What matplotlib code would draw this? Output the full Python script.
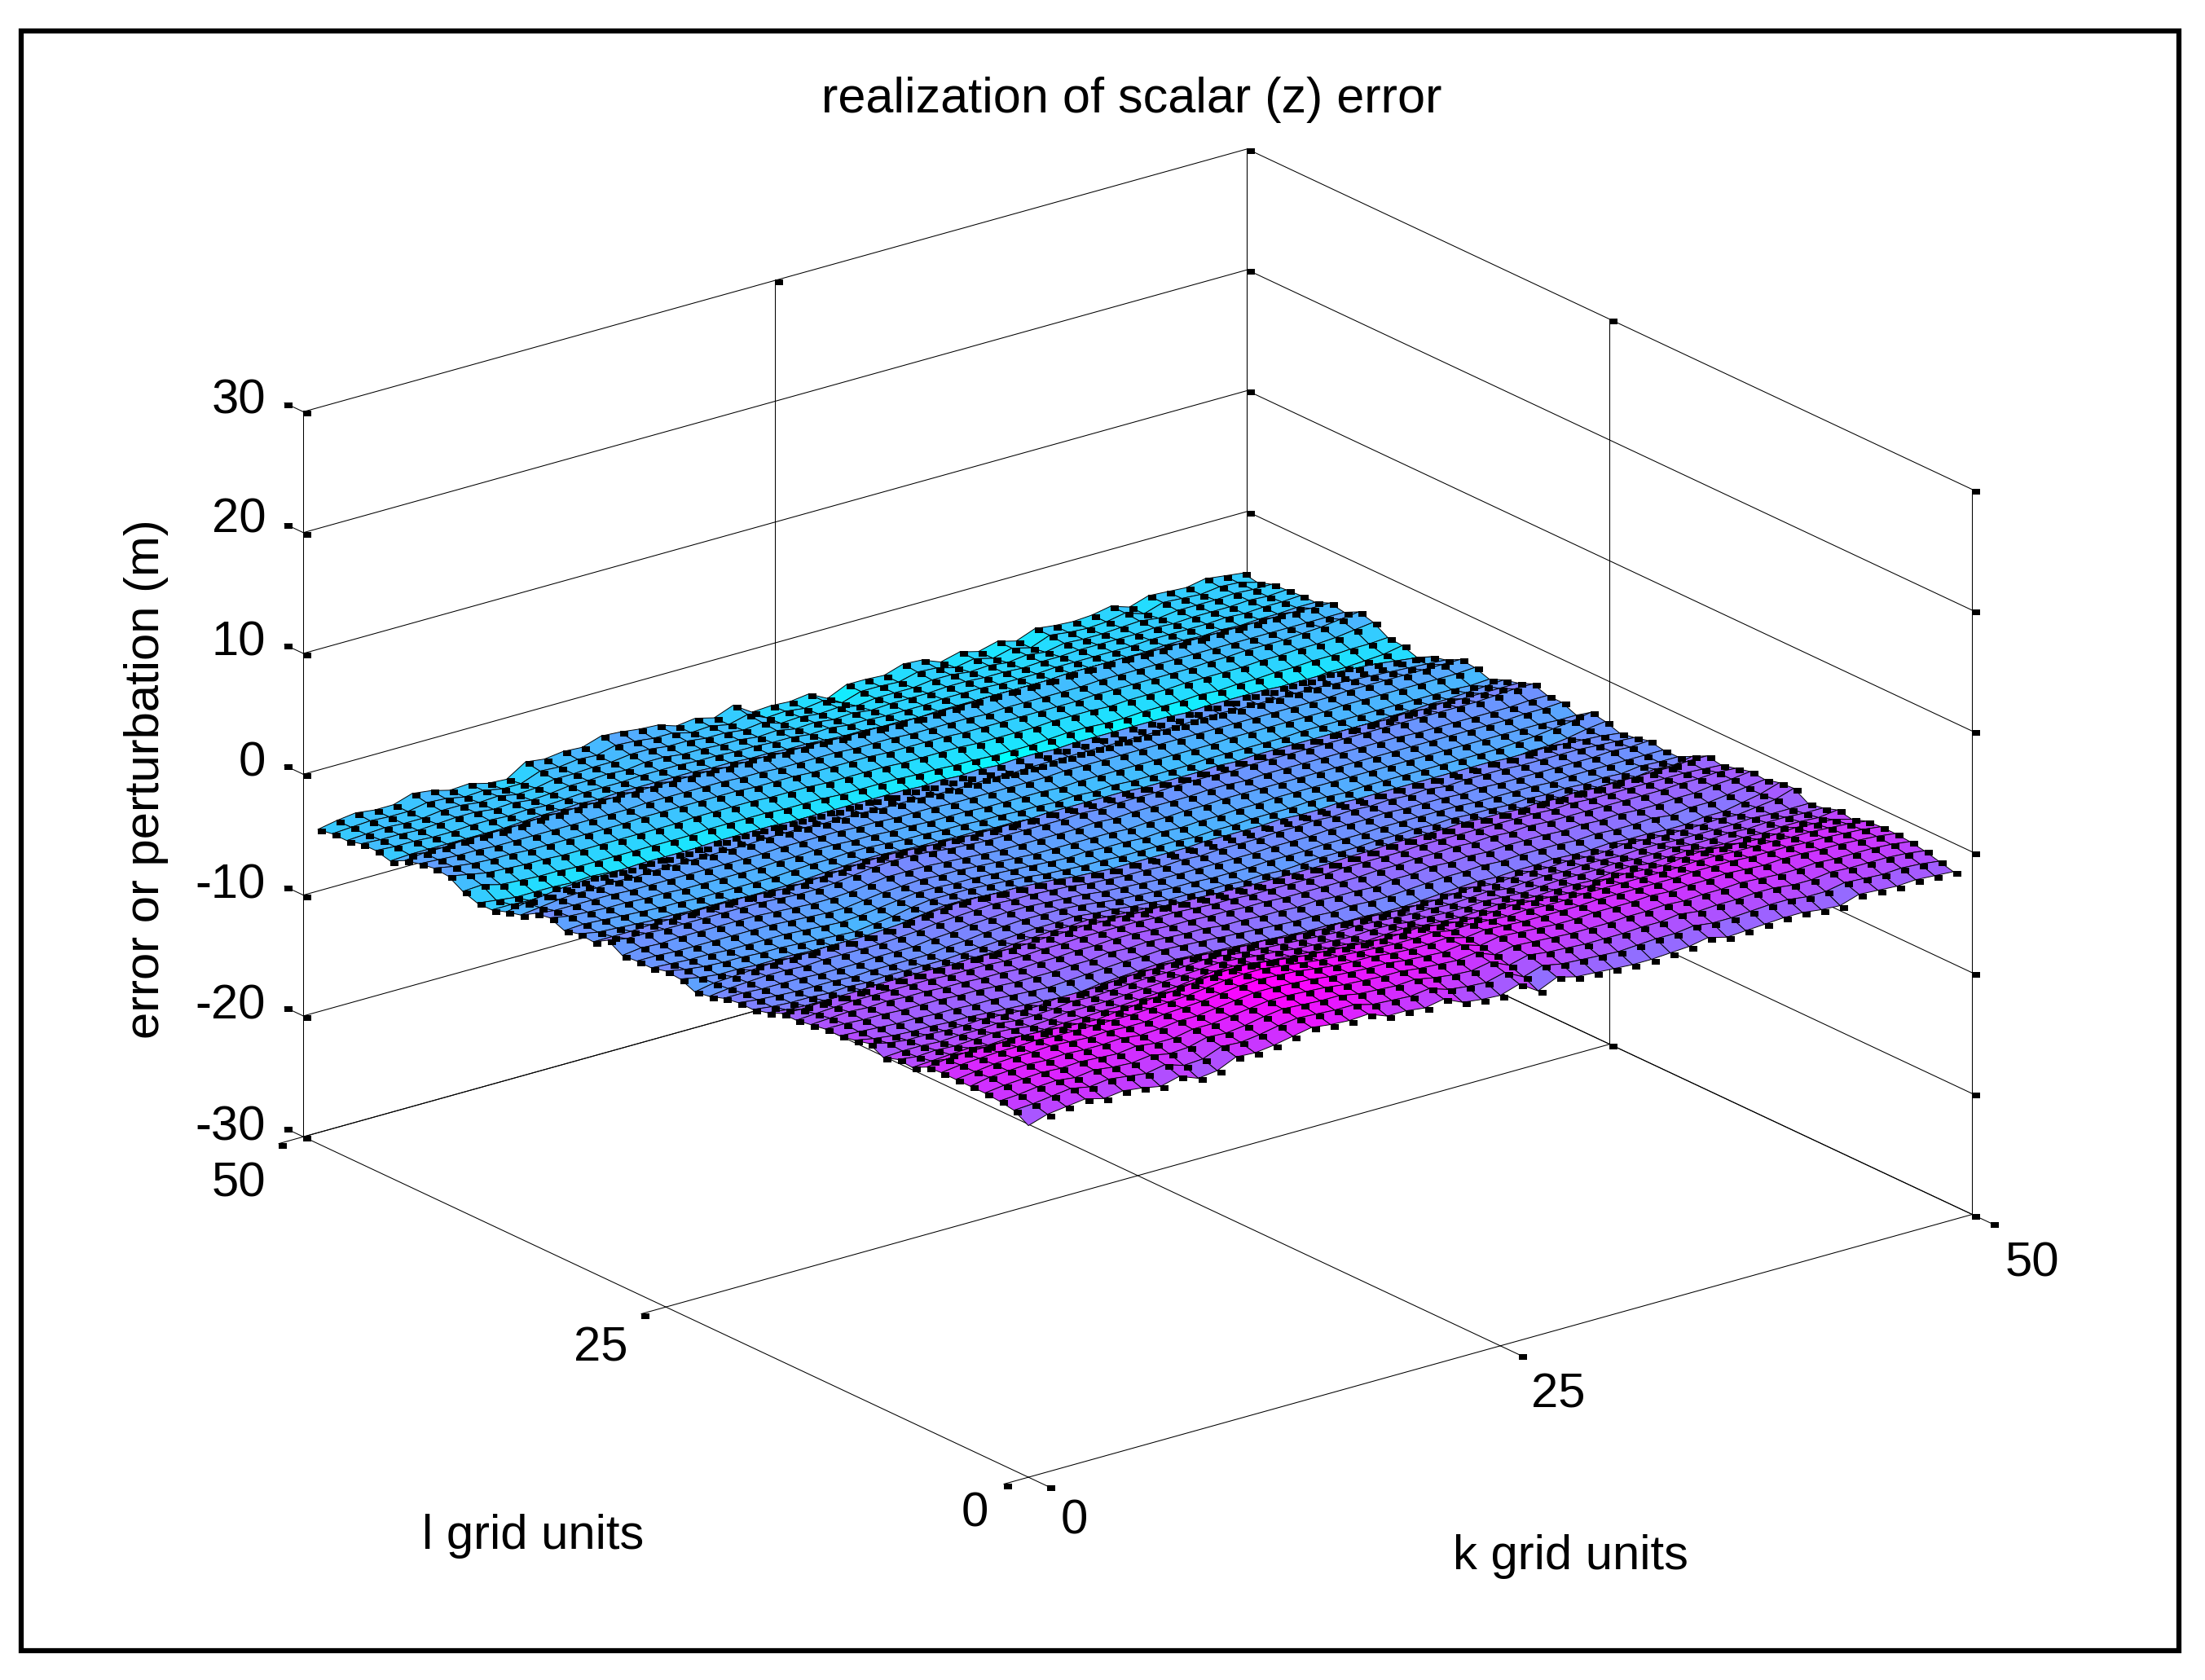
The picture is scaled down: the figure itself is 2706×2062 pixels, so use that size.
import numpy as np
import matplotlib
matplotlib.use("Agg")
import matplotlib.pyplot as plt
from matplotlib.patches import Rectangle
from matplotlib.colors import Normalize

plt.rcParams['font.family'] = ['Liberation Sans', 'DejaVu Sans']

z_ticks = [-30, -20, -10, 0, 10, 20, 30]
z_labels = ["-30", "-20", "-10", "0", "10", "20", "30"]
k_ticks = [0, 25, 50]
l_ticks = [0, 25, 50]
title = "realization of scalar (z) error"

# surface height, in tenths of a metre
# one row per l (0 to 49), one column per k (0 to 49)
z_rows = [
[-9,-4,-2,0,-4,-2,-4,-7,-3,-9, -7,0,-1,1,4,7,5,4,5,-1, -1,-3,0,-7,-9,-10,-5,-15,-8,-12, -13,-14,-15,-15,-14,-13,-10,-14,-13,-12, -11,-11,-13,-14,-9,-10,-11,-10,-11,-12],
[-2,-1,1,3,0,2,0,-2,1,-4, -3,3,2,4,7,9,8,7,7,3, 2,1,3,-2,-4,-5,-1,-9,-4,-7, -8,-9,-10,-9,-8,-8,-6,-8,-8,-7, -6,-6,-8,-8,-5,-6,-7,-6,-7,-9],
[0,1,3,4,2,4,2,1,3,0, 1,5,4,6,9,11,10,9,9,6, 5,4,5,2,0,-1,2,-5,-1,-3, -4,-5,-5,-5,-4,-4,-2,-4,-3,-3, -2,-2,-4,-4,-2,-3,-3,-3,-4,-6],
[1,3,4,5,4,5,4,3,5,3, 3,6,6,8,10,12,12,11,10,8, 7,6,6,4,3,2,4,-2,1,0, -1,-2,-2,-2,-1,-1,0,-1,0,0, 1,0,-1,-1,0,-1,-1,-1,-2,-4],
[1,4,5,6,5,6,5,5,6,4, 5,7,7,9,11,13,13,12,11,9, 8,7,7,5,4,3,5,0,3,2, 1,0,0,1,1,1,2,1,2,2, 3,2,1,2,2,1,1,0,-1,-3],
[1,3,5,6,6,7,6,5,6,5, 5,7,8,9,11,13,14,13,12,10, 8,7,7,5,4,4,5,1,3,2, 1,1,1,1,2,2,2,2,2,3, 3,3,2,2,2,1,1,0,-1,-3],
[1,3,4,5,5,6,5,5,5,5, 5,6,7,8,10,12,13,13,11,9, 7,6,5,4,3,3,4,1,2,1, 0,1,0,0,1,1,1,1,1,1, 2,2,1,1,1,0,0,-1,-2,-4],
[0,2,3,3,3,4,3,2,1,0, 2,3,5,6,8,10,11,11,9,7, 5,4,3,2,1,1,2,0,-2,-3, -2,-1,-2,-3,-4,-3,-1,-1,-2,-3, -1,0,-1,-2,-3,-3,-2,-3,-4,-8],
[-6,-5,-4,-3,-5,-4,-6,-5,-4,-4, -3,-3,-2,-1,0,2,4,4,2,0, -1,-2,-3,-4,-6,-5,-4,-6,-7,-8, -7,-6,-7,-8,-7,-7,-8,-6,-5,-7, -6,-5,-7,-8,-7,-8,-7,-7,-8,-6],
[-5,-7,-6,-7,-6,-5,-6,-8,-7,-5, -5,-5,-4,-3,-2,-1,0,1,0,-2, -3,-5,-6,-7,-8,-7,-7,-9,-9,-10, -10,-9,-10,-11,-10,-9,-9,-9,-8,-9, -9,-8,-10,-10,-9,-10,-9,-9,-10,-10],
[-9,-8,-8,-9,-8,-8,-7,-9,-9,-8, -6,-7,-6,-5,-4,-4,-3,-2,-3,-5, -6,-7,-8,-9,-10,-9,-10,-11,-12,-12, -13,-12,-11,-13,-12,-11,-12,-11,-11,-12, -11,-11,-12,-12,-12,-12,-11,-12,-12,-12],
[-3,-7,-9,-9,-10,-10,-9,-10,-11,-11, -9,-9,-9,-8,-7,-7,-6,-6,-7,-8, -9,-9,-11,-12,-13,-12,-13,-14,-15,-15, -15,-14,-13,-15,-14,-13,-14,-13,-14,-14, -12,-13,-14,-14,-14,-13,-14,-12,-10,-5],
[-6,-9,-11,-12,-12,-13,-13,-14,-15,-16, -17,-19,-18,-16,-15,-14,-13,-13,-14,-15, -16,-17,-18,-19,-20,-20,-21,-21,-22,-22, -21,-20,-19,-18,-19,-18,-18,-17,-18,-18, -17,-18,-18,-19,-19,-17,-17,-14,-11,-6],
[-8,-9,-10,-11,-11,-12,-12,-13,-13,-14, -15,-16,-15,-14,-13,-12,-12,-11,-12,-13, -14,-15,-16,-17,-18,-18,-19,-18,-19,-19, -18,-17,-16,-16,-15,-16,-15,-15,-15,-16, -15,-16,-16,-15,-17,-15,-15,-13,-11,-9],
[-8,-8,-9,-9,-10,-10,-10,-11,-11,-12, -13,-13,-13,-12,-12,-10,-11,-10,-11,-12, -12,-14,-14,-15,-15,-16,-15,-16,-16,-17, -15,-15,-13,-14,-13,-14,-13,-13,-13,-14, -13,-14,-13,-14,-14,-13,-13,-11,-10,-8],
[-10,-9,-8,-9,-8,-9,-9,-10,-10,-11, -11,-12,-11,-11,-10,-10,-9,-9,-10,-11, -11,-12,-12,-13,-13,-14,-14,-14,-14,-14, -13,-13,-12,-12,-11,-12,-11,-12,-11,-12, -12,-12,-12,-12,-12,-12,-11,-11,-10,-11],
[-12,-11,-10,-9,-9,-9,-9,-9,-10,-10, -10,-11,-11,-10,-10,-9,-9,-9,-9,-10, -10,-11,-12,-12,-13,-13,-13,-13,-13,-12, -12,-12,-12,-11,-11,-11,-11,-11,-11,-11, -12,-11,-12,-12,-12,-12,-12,-12,-13,-14],
[-12,-13,-12,-11,-11,-10,-10,-10,-10,-11, -10,-11,-11,-11,-10,-10,-9,-10,-10,-11, -11,-12,-12,-13,-13,-14,-14,-14,-14,-14, -13,-13,-12,-12,-12,-12,-11,-12,-12,-13, -12,-13,-12,-13,-13,-13,-13,-13,-12,-12],
[-17,-19,-20,-20,-21,-20,-21,-20,-20,-20, -20,-19,-19,-17,-16,-15,-15,-14,-16,-17, -18,-20,-22,-23,-24,-24,-25,-24,-25,-24, -24,-23,-23,-22,-22,-21,-22,-21,-22,-22, -22,-21,-22,-21,-22,-21,-22,-20,-21,-18],
[-20,-22,-23,-23,-24,-23,-24,-23,-23,-23, -23,-22,-21,-20,-19,-18,-18,-17,-19,-20, -22,-23,-25,-25,-26,-26,-27,-26,-27,-26, -25,-25,-25,-24,-24,-23,-24,-23,-24,-24, -25,-24,-25,-24,-25,-24,-25,-23,-24,-24],
[-20,-22,-23,-24,-24,-24,-25,-24,-24,-24, -24,-22,-21,-19,-18,-17,-17,-17,-18,-20, -22,-23,-24,-25,-25,-26,-26,-26,-25,-25, -25,-24,-24,-24,-23,-23,-23,-23,-23,-24, -24,-24,-24,-25,-24,-24,-24,-24,-24,-24],
[-22,-22,-23,-23,-23,-24,-24,-24,-23,-23, -23,-21,-20,-18,-17,-16,-16,-17,-18,-19, -21,-22,-23,-24,-24,-24,-24,-24,-24,-23, -23,-23,-22,-22,-22,-21,-22,-22,-22,-23, -22,-23,-23,-23,-23,-23,-23,-22,-23,-22],
[-26,-24,-23,-22,-22,-23,-22,-22,-22,-22, -21,-20,-18,-17,-16,-15,-16,-16,-17,-18, -20,-21,-22,-22,-23,-22,-23,-22,-22,-22, -21,-21,-20,-21,-20,-21,-20,-21,-20,-22, -21,-21,-21,-22,-22,-22,-22,-23,-24,-25],
[-28,-25,-24,-23,-22,-22,-22,-21,-21,-21, -20,-19,-17,-16,-15,-15,-16,-16,-17,-18, -20,-21,-22,-22,-22,-22,-22,-21,-21,-21, -21,-20,-21,-21,-20,-21,-21,-21,-21,-21, -21,-21,-21,-22,-22,-22,-23,-24,-25,-27],
[-23,-26,-28,-28,-29,-29,-29,-30,-30,-31, -31,-30,-27,-25,-23,-23,-24,-25,-26,-27, -28,-30,-31,-32,-32,-33,-33,-33,-34,-33, -33,-32,-32,-32,-32,-31,-32,-31,-31,-31, -31,-32,-32,-31,-32,-30,-30,-28,-25,-23],
[-22,-25,-27,-28,-28,-29,-29,-30,-31,-32, -33,-31,-29,-26,-24,-24,-24,-25,-26,-27, -29,-30,-31,-31,-32,-32,-32,-32,-33,-32, -32,-31,-31,-31,-30,-30,-31,-30,-30,-30, -30,-30,-30,-30,-30,-29,-28,-26,-24,-21],
[-25,-26,-27,-27,-28,-28,-28,-28,-29,-30, -31,-30,-28,-26,-24,-24,-25,-25,-26,-27, -28,-29,-30,-29,-30,-30,-31,-30,-31,-30, -30,-29,-29,-28,-28,-28,-28,-28,-28,-28, -28,-28,-28,-28,-28,-28,-28,-28,-29,-29],
[-25,-25,-26,-26,-26,-26,-26,-26,-27,-28, -29,-29,-27,-25,-24,-23,-24,-24,-25,-26, -27,-28,-28,-28,-28,-28,-29,-28,-28,-27, -27,-26,-26,-26,-26,-26,-26,-26,-26,-26, -26,-26,-26,-26,-26,-26,-26,-25,-25,-24],
[-26,-24,-25,-24,-24,-24,-24,-24,-25,-26, -27,-27,-26,-24,-22,-22,-22,-23,-24,-25, -26,-26,-26,-26,-26,-25,-26,-25,-25,-25, -25,-24,-24,-25,-24,-24,-24,-24,-24,-24, -24,-24,-25,-25,-25,-25,-25,-25,-24,-24],
[-19,-22,-22,-23,-23,-23,-23,-23,-23,-24, -25,-25,-24,-22,-20,-19,-19,-20,-22,-23, -24,-24,-24,-24,-24,-23,-24,-23,-23,-23, -22,-22,-22,-23,-22,-22,-22,-22,-22,-22, -22,-22,-22,-22,-22,-22,-22,-21,-20,-20],
[-26,-26,-26,-25,-25,-24,-24,-24,-24,-25, -26,-26,-25,-24,-23,-22,-22,-23,-24,-24, -25,-25,-25,-25,-24,-24,-24,-24,-24,-25, -25,-25,-25,-24,-25,-24,-24,-24,-24,-24, -24,-24,-25,-24,-25,-24,-25,-25,-25,-25],
[-25,-28,-29,-30,-31,-31,-32,-32,-32,-33, -33,-33,-32,-31,-30,-29,-29,-30,-31,-31, -32,-32,-33,-33,-34,-34,-35,-35,-35,-35, -35,-35,-35,-35,-35,-35,-34,-34,-34,-34, -33,-33,-33,-32,-32,-31,-31,-30,-29,-28],
[-28,-27,-28,-29,-30,-31,-31,-32,-32,-32, -32,-32,-31,-30,-30,-29,-29,-30,-31,-31, -32,-32,-33,-33,-34,-34,-35,-34,-35,-34, -35,-35,-35,-35,-34,-34,-34,-34,-34,-33, -33,-33,-33,-33,-33,-33,-33,-33,-34,-33],
[-23,-26,-27,-28,-28,-29,-29,-30,-30,-30, -30,-30,-29,-29,-28,-28,-29,-29,-30,-30, -31,-31,-31,-32,-32,-32,-32,-33,-32,-32, -32,-32,-32,-32,-32,-32,-31,-31,-31,-31, -31,-31,-30,-30,-30,-30,-30,-30,-30,-29],
[-25,-27,-27,-27,-27,-28,-28,-28,-28,-28, -28,-28,-28,-27,-27,-27,-27,-28,-28,-29, -29,-29,-30,-30,-30,-30,-30,-30,-29,-29, -29,-29,-29,-29,-29,-29,-29,-29,-29,-29, -29,-29,-29,-28,-28,-28,-28,-28,-28,-28],
[-32,-30,-28,-27,-27,-26,-27,-26,-26,-26, -26,-26,-26,-25,-25,-25,-26,-26,-26,-27, -27,-27,-28,-28,-28,-27,-28,-27,-27,-27, -27,-27,-27,-27,-27,-27,-26,-26,-27,-27, -27,-27,-27,-28,-29,-30,-31,-32,-33,-34],
[-35,-32,-30,-28,-27,-27,-27,-26,-26,-26, -26,-25,-25,-25,-25,-26,-26,-26,-26,-26, -26,-26,-27,-26,-27,-26,-27,-26,-26,-27, -26,-26,-26,-26,-26,-26,-27,-26,-26,-26, -26,-27,-27,-27,-28,-29,-30,-32,-34,-37],
[-39,-39,-40,-40,-40,-41,-40,-41,-41,-41, -41,-41,-40,-40,-39,-39,-40,-40,-41,-41, -42,-41,-42,-42,-43,-43,-44,-44,-45,-45, -44,-44,-44,-43,-44,-43,-43,-43,-43,-42, -42,-42,-42,-42,-42,-42,-42,-43,-43,-43],
[-39,-41,-43,-43,-43,-44,-43,-44,-45,-44, -45,-45,-45,-44,-43,-43,-44,-44,-44,-45, -45,-45,-46,-46,-47,-47,-48,-49,-52,-50, -48,-47,-47,-47,-50,-48,-47,-48,-47,-46, -46,-45,-46,-45,-46,-44,-44,-43,-42,-39],
[-35,-34,-38,-39,-40,-40,-41,-41,-41,-41, -41,-41,-41,-40,-40,-40,-40,-41,-41,-41, -42,-42,-42,-42,-43,-43,-44,-44,-45,-45, -45,-44,-43,-43,-44,-44,-43,-43,-43,-42, -43,-42,-42,-41,-41,-40,-40,-39,-39,-38],
[-28,-31,-34,-35,-36,-36,-37,-37,-37,-37, -37,-37,-37,-36,-36,-36,-36,-37,-37,-37, -38,-38,-38,-38,-39,-39,-39,-39,-40,-40, -40,-40,-39,-39,-39,-40,-39,-39,-39,-38, -38,-38,-38,-37,-37,-36,-36,-35,-33,-31],
[-27,-30,-32,-33,-33,-34,-34,-34,-34,-34, -34,-33,-33,-33,-33,-33,-33,-34,-34,-34, -35,-35,-35,-35,-36,-36,-36,-36,-37,-37, -37,-37,-37,-37,-37,-36,-36,-36,-36,-36, -36,-35,-35,-34,-34,-34,-33,-32,-30,-28],
[-29,-30,-31,-31,-32,-32,-32,-32,-32,-32, -32,-32,-31,-31,-31,-31,-31,-32,-32,-33, -33,-33,-33,-34,-34,-34,-35,-35,-35,-35, -36,-35,-35,-35,-35,-35,-34,-34,-34,-34, -34,-34,-34,-34,-34,-34,-34,-34,-34,-34],
[-32,-30,-30,-29,-29,-29,-29,-28,-28,-28, -28,-28,-28,-28,-28,-28,-28,-29,-29,-29, -30,-30,-30,-31,-31,-31,-32,-32,-32,-32, -32,-31,-31,-31,-31,-30,-30,-30,-30,-31, -31,-31,-31,-31,-31,-31,-31,-31,-32,-32],
[-38,-37,-37,-37,-37,-37,-37,-36,-35,-35, -34,-35,-34,-34,-34,-34,-34,-35,-35,-36, -36,-37,-37,-38,-39,-39,-40,-40,-41,-40, -40,-40,-40,-40,-40,-40,-39,-39,-39,-39, -39,-38,-38,-39,-38,-39,-38,-38,-37,-37],
[-35,-36,-36,-37,-37,-36,-36,-37,-36,-37, -36,-35,-35,-35,-34,-34,-34,-35,-35,-36, -36,-37,-37,-39,-38,-40,-40,-41,-41,-41, -40,-40,-40,-41,-41,-41,-40,-40,-40,-40, -40,-39,-39,-39,-39,-38,-39,-38,-38,-37],
[-35,-36,-36,-37,-36,-35,-35,-37,-36,-38, -37,-35,-35,-34,-35,-33,-33,-35,-35,-36, -36,-38,-37,-40,-39,-41,-40,-42,-41,-41, -41,-40,-40,-41,-41,-42,-41,-41,-40,-40, -40,-40,-39,-40,-39,-39,-39,-38,-39,-38],
[-38,-37,-36,-37,-37,-35,-35,-37,-36,-39, -38,-35,-35,-34,-34,-32,-32,-34,-34,-36, -36,-38,-36,-41,-40,-42,-41,-44,-42,-42, -42,-40,-40,-42,-41,-43,-41,-43,-40,-41, -41,-40,-39,-41,-39,-39,-39,-38,-39,-39],
[-38,-37,-36,-37,-37,-34,-35,-38,-37,-40, -40,-34,-35,-33,-34,-30,-31,-33,-33,-37, -36,-39,-35,-42,-41,-43,-41,-47,-42,-42, -43,-39,-40,-44,-41,-45,-41,-45,-39,-41, -42,-41,-38,-43,-38,-39,-40,-38,-39,-43],
[-40,-37,-35,-37,-37,-32,-34,-38,-37,-41, -42,-32,-34,-32,-33,-28,-29,-31,-32,-37, -35,-39,-33,-43,-42,-43,-41,-49,-42,-42, -43,-38,-39,-45,-41,-45,-41,-45,-39,-41, -42,-41,-38,-43,-38,-39,-40,-37,-39,-41],
]

for i, row in enumerate(z_rows):
    if len(row) != 50:
        raise ValueError("row %d has %d values" % (i, len(row)))

ink = "#000000"
grid_lw = 0.75
W, H = 2706.0, 2062.0

# small black rectangle hanging off the lower right of a point, like the old print
rect_marker = [(0, 0.1), (1, 0.1), (1, -0.55), (0, -0.55)]

def label(x, y, s, size=43, **kw):
    # x and y in the shrunk 1568x1195 view of the reference
    fig.text(x / 1568.0, 1 - (y + 2) / 1195.0, s, fontsize=size, ha=kw.pop('ha', 'center'), va='center', color=ink, **kw)

fig = plt.figure(figsize=(27.06, 20.62), dpi=100)
fig.add_artist(Rectangle((26 / W, 1 - 2026 / H), 2648 / W, 1988 / H, transform=fig.transFigure, fill=False, ec=ink, lw=4.5))

ax = fig.add_axes([0.0057, 0.0025, 1.0, 1.0], projection='3d', proj_type='ortho', computed_zorder=False)
ax.view_init(elev=21.2, azim=-127.6)
ax.set_box_aspect((847, 845, 553), zoom=1.071)
ax.set_xlim(0, 50, view_margin=0)
ax.set_ylim(0, 50, view_margin=0)
ax.set_zlim(-30, 30, view_margin=0)
ax.set_axis_off()
ax.patch.set_alpha(0)

def line(xs, ys, zs):
    ax.plot(xs, ys, zs, color=ink, lw=grid_lw, zorder=1, clip_on=False)

def tick_mark(xs, ys, zs):
    ax.plot(xs, ys, zs, ls='none', marker=rect_marker, ms=14.4, mew=0, color=ink, zorder=1.5, clip_on=False)

# walls
for z in z_ticks:
    line([0, 50, 50], [50, 50, 0], [z, z, z])
    line([0, 0], [50, 51.3], [z, z])
    tick_mark([0, 0, 50, 50], [51.3, 50, 50, 0], [z, z, z, z])
for k in k_ticks:
    line([k, k], [50, 50], [-30, 30])
    line([k, k], [0, 50], [-30, -30])
    line([k, k], [0, -1.3], [-30, -30])
    tick_mark([k, k, k], [-1.3, 50, 50], [-30, 30, -30])
for l in l_ticks:
    line([50, 50], [l, l], [-30, 30])
    line([0, 50], [l, l], [-30, -30])
    line([0, -1.3], [l, l], [-30, -30])
    tick_mark([-1.3, 50, 50], [l, l, l], [-30, 30, -30])

# surface, one face colour from the first corner of each cell
k_vals = np.arange(50)
l_vals = np.arange(50)
K, L = np.meshgrid(k_vals, l_vals)
Z = np.array(z_rows) / 10.0
norm = Normalize(vmin=-5.2, vmax=1.3)
face = plt.cm.cool(norm(Z))
surf = ax.plot_surface(K, L, Z, rstride=1, cstride=1, facecolors=face, shade=False,
                       edgecolor=ink, linewidth=0.7, antialiased=True, zorder=2)
surf.set_clip_on(False)

# the corner nearest the viewer has no mark in the reference
ax.plot(K.ravel()[1:], L.ravel()[1:], Z.ravel()[1:], ls='none', marker=rect_marker, ms=14.4, mew=0,
        color=ink, zorder=3, clip_on=False)

label(805, 69, title, size=44)
label(104, 552, "error or perturbation (m)", rotation=90)
for y, s in zip([800, 714, 628, 541, 455, 368, 283], z_labels):
    label(189, y, s, ha='right')
label(170, 840, "50")
label(427, 957, "25")
label(693, 1075, "0")
label(764, 1080, "0")
label(1108, 990, "25")
label(1445, 897, "50")
label(379, 1091, "l grid units")
label(1117, 1105, "k grid units")

fig.savefig("out.png", dpi=100)
